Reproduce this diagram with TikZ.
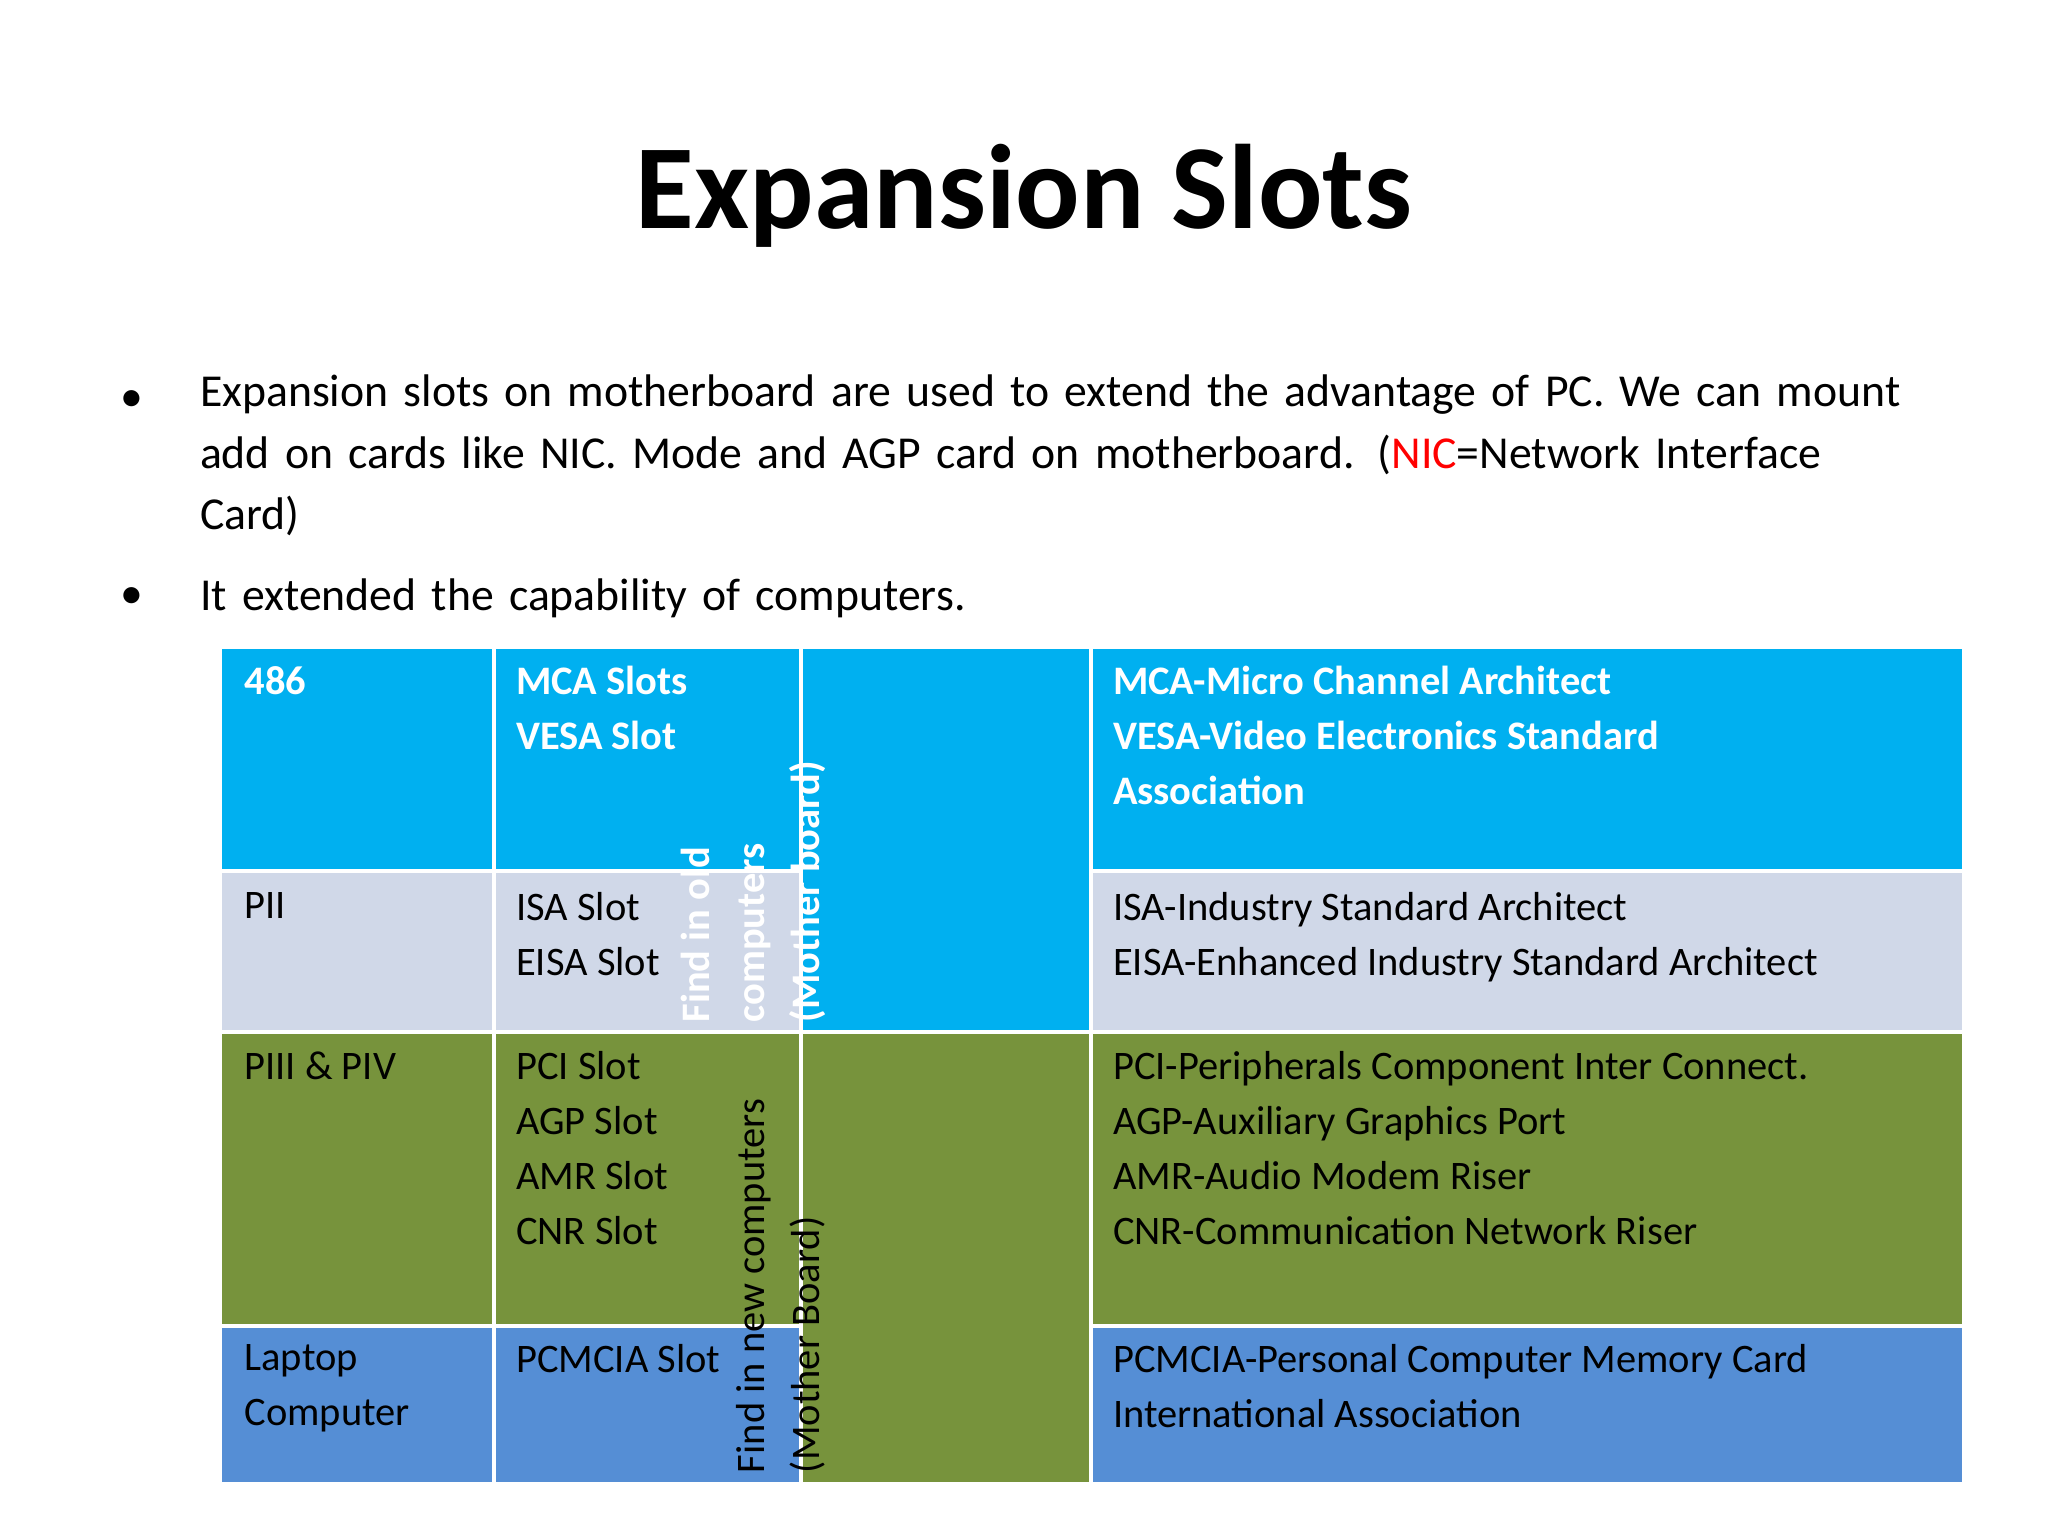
\documentclass[tikz,border=0pt]{standalone}
\usepackage{fontspec}
\setmainfont{Carlito}
\definecolor{cyanc}{RGB}{0,176,240}
\definecolor{grayc}{RGB}{208,216,232}
\definecolor{greenc}{RGB}{119,147,60}
\definecolor{bluec}{RGB}{85,142,213}
\definecolor{nicred}{RGB}{255,0,0}
\begin{document}
\begin{tikzpicture}[x=1pt,y=-1pt]
% styles
\tikzset{
  cell/.style={draw=white, line width=3pt},
  txt/.style={anchor=north west, inner sep=0pt, align=left, font=\fontsize{31}{42}\selectfont},
  bul/.style={anchor=north west, inner sep=0pt, align=left, text width=1320pt, font=\fontsize{35}{47}\selectfont}
}
\useasboundingbox (0,0) rectangle (1568,1176);

\node[font=\fontsize{92}{100}\selectfont\bfseries] (title) at (784,150) {Expansion Slots};

\node[font=\fontsize{35}{47}\selectfont] (b1) at (101,307) {•};
\node[bul] (t1) at (153,287) {Expansion slots on motherboard are used to extend the advantage of PC. We can mount add on cards like NIC. Mode and AGP card on motherboard. (\textcolor{nicred}{NIC}=Network Interface Card)};
\node[font=\fontsize{35}{47}\selectfont] (b2) at (101,458) {•};
\node[bul, anchor=west] (t2) at (153,458) {It extended the capability of computers.};

% cells
\fill[cyanc] (170,497) rectangle (1502,667);
\fill[cyanc] (613,497) rectangle (835,790);
\fill[grayc] (170,667) rectangle (613,790);
\fill[grayc] (835,667) rectangle (1502,790);
\fill[greenc] (170,790) rectangle (1502,1015);
\fill[greenc] (613,790) rectangle (835,1135);
\fill[bluec] (170,1015) rectangle (613,1135);
\fill[bluec] (835,1015) rectangle (1502,1135);
\draw[cell] (170,667) -- (613,667) (835,667) -- (1502,667);
\draw[cell] (170,790) -- (1502,790) (170,1015) -- (613,1015) (835,1015) -- (1502,1015);
\draw[cell] (378,497) -- (378,1135) (613,497) -- (613,1135) (835,497) -- (835,1135);

% texts
\node[txt, text=white, font=\fontsize{31}{42}\selectfont\bfseries] (c11) at (187,510) {486};
\node[txt, text=white, font=\fontsize{31}{42}\selectfont\bfseries] (c12) at (395,510) {MCA Slots\\VESA Slot};
\node[txt, text=white, font=\fontsize{31}{42}\selectfont\bfseries] (c14) at (852,510) {MCA-Micro Channel Architect\\VESA-Video Electronics Standard\\Association};
\node[txt] (c21) at (187,683) {PII};
\node[txt] (c22) at (395,683) {ISA Slot\\EISA Slot};
\node[txt] (c24) at (852,683) {ISA-Industry Standard Architect\\EISA-Enhanced Industry Standard Architect};
\node[txt] (c31) at (187,805) {PIII \& PIV};
\node[txt] (c32) at (395,805) {PCI Slot\\AGP Slot\\AMR Slot\\CNR Slot};
\node[txt] (c34) at (852,805) {PCI-Peripherals Component Inter Connect.\\AGP-Auxiliary Graphics Port\\AMR-Audio Modem Riser\\CNR-Communication Network Riser};
\node[txt] (c41) at (187,1029) {Laptop\\Computer};
\node[txt] (c42) at (395,1029) {PCMCIA Slot};
\node[txt] (c44) at (852,1029) {PCMCIA-Personal Computer Memory Card\\International Association};
\node[txt, anchor=south west, rotate=90, text=white, font=\fontsize{31}{42}\selectfont\bfseries] (old) at (632,783) {Find in old\\computers\\(Mother board)};
\node[txt, anchor=south west, rotate=90] (new) at (632,1128) {Find in new computers\\(Mother Board)};
\end{tikzpicture}
\end{document}
